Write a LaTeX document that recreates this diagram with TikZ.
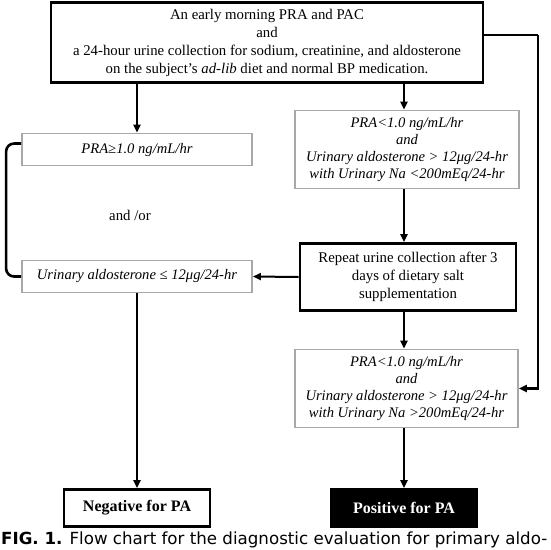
\documentclass[tikz,border=0pt]{standalone}
\usepackage{fontspec}
\setmainfont{Liberation Serif}
\newfontfamily\capfont{DejaVu Sans}
\usetikzlibrary{arrows.meta}
\definecolor{boxgray}{HTML}{A8A8A8}
\begin{document}
\begin{tikzpicture}[x=1pt,y=-1pt,
  font=\fontsize{14.8}{18}\selectfont,
  blackbox/.style={draw=black,line width=2.6pt,align=center,inner sep=0pt},
  graybox/.style={draw=boxgray,line width=1.8pt,align=center,inner sep=0pt,font=\fontsize{14.6}{17}\selectfont\itshape},
  arr/.style={line width=2pt,-{Triangle[length=8pt,width=7pt]}},
  thickline/.style={line width=2.6pt}]
\useasboundingbox (0,0) rectangle (550,550);
\node[blackbox,minimum width=432pt,minimum height=80pt] (top) at (267,42.5)
  {An early morning PRA and PAC\\and\\a 24-hour urine collection for sodium, creatinine, and aldosterone\\on the subject's \textit{ad-lib} diet and normal BP medication.};
\node[graybox,minimum width=230pt,minimum height=32pt] (p1) at (137,149.5) {PRA≥1.0 ng/mL/hr};
\node[graybox,minimum width=230pt,minimum height=32pt] (u1) at (137,276.5) {Urinary aldosterone ≤ 12μg/24-hr};
\node (andor) at (130,215) {and /or};
\node[graybox,minimum width=224pt,minimum height=78pt] (r1) at (407,149.5)
  {PRA<1.0 ng/mL/hr\\and\\Urinary aldosterone > 12μg/24-hr\\with Urinary Na <200mEq/24-hr};
\node[blackbox,minimum width=216pt,minimum height=67pt] (rep) at (408,277)
  {Repeat urine collection after 3\\days of dietary salt\\supplementation};
\node[graybox,minimum width=223pt,minimum height=78pt] (r2) at (406.5,388.5)
  {PRA<1.0 ng/mL/hr\\and\\Urinary aldosterone > 12μg/24-hr\\with Urinary Na >200mEq/24-hr};
\node[blackbox,minimum width=146pt,minimum height=37pt,font=\fontsize{16}{18}\selectfont\bfseries] (neg) at (137,508) {Negative for PA};
\node[blackbox,fill=black,text=white,minimum width=146pt,minimum height=37pt,font=\fontsize{16}{18}\selectfont\bfseries] (pos) at (404,508) {Positive for PA};
\coordinate (rc) at (538,35);
\draw[arr] (p1.north |- top.south) -- (p1.north);
\draw[arr] ([xshift=-3pt]r1.north |- top.south) -- ([xshift=-3pt]r1.north);
\draw[arr] ([xshift=-3pt]r1.south) -- ([xshift=-3pt]r1.south |- rep.north);
\draw[arr] ([xshift=-4pt]rep.south) -- ([xshift=-4pt]rep.south |- r2.north);
\draw[arr] (rep.west) -- (u1.east);
\draw[arr] (u1.south) -- (neg.north);
\draw[arr] (pos.north |- r2.south) -- (pos.north);
\draw[thickline] (top.east |- rc) -- (rc);
\draw[arr,line width=2.6pt] (rc) |- (r2.east);
\draw[thickline,rounded corners=8pt] ([yshift=6pt]p1.west) -- ++(-15,0) |- (u1.west);
\node[anchor=base west,inner sep=0pt] (cap) at (1,544)
  {\resizebox{546pt}{!}{\capfont\textbf{FIG. 1.} Flow chart for the diagnostic evaluation for primary aldo-}};
\end{tikzpicture}
\end{document}
